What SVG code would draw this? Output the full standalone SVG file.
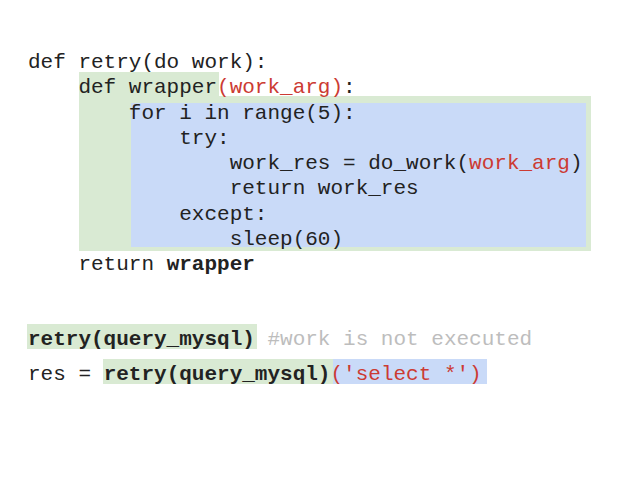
<svg xmlns="http://www.w3.org/2000/svg" width="638" height="478" viewBox="0 0 638 478">
<style>
.code{font-family:"Liberation Mono","Courier New",monospace;font-size:21px;fill:#222222;white-space:pre}
.red{fill:#cc3b33}
.gray{fill:#bdbdbd}
.b{font-weight:bold}
.green{fill:#d9ead3}
.blue{fill:#c9daf8}
</style>
<rect width="638" height="478" fill="#ffffff"/>
<g id="wrapper-block">
<rect class="green" x="79" y="72" width="140" height="25"/>
<rect class="green" x="79" y="96" width="512" height="155"/>
</g>
<g id="loop-block">
<rect class="blue" x="131" y="103" width="455" height="144"/>
</g>
<g id="call1-highlight">
<rect class="green" x="27" y="324" width="230" height="25"/>
</g>
<g id="call2-highlight">
<rect class="green" x="103" y="359" width="230" height="25"/>
<rect class="blue" x="333" y="359" width="154" height="25"/>
</g>
<g id="code">
<text class="code" x="28" y="68">def retry(do work):</text>
<text class="code" x="28" y="93.3">    def wrapper<tspan class="red">(work_arg)</tspan>:</text>
<text class="code" x="28" y="118.5">        for i in range(5):</text>
<text class="code" x="28" y="143.8">            try:</text>
<text class="code" x="28" y="169">                work_res = do_work(<tspan class="red">work_arg</tspan>)</text>
<text class="code" x="28" y="194.3">                return work_res</text>
<text class="code" x="28" y="219.5">            except:</text>
<text class="code" x="28" y="244.8">                sleep(60)</text>
<text class="code" x="28" y="270">    return <tspan class="b">wrapper</tspan></text>
<text class="code" x="28" y="345"><tspan class="b">retry(query_mysql)</tspan> <tspan class="gray">#work is not executed</tspan></text>
<text class="code" x="28" y="380">res = <tspan class="b">retry(query_mysql)</tspan><tspan class="red">('select *')</tspan></text>
</g>
<g id="connectors"></g>
</svg>
